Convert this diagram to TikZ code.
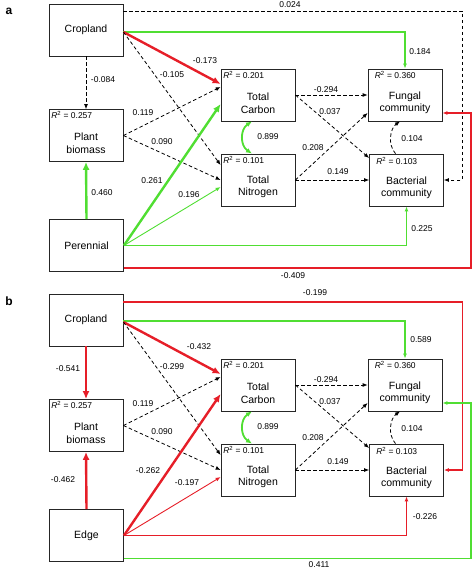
\documentclass[tikz,border=0pt]{standalone}
\usepackage{fontspec}
\setmainfont{Liberation Sans}
\usetikzlibrary{arrows.meta}
\definecolor{gr}{RGB}{80,222,50}
\definecolor{rd}{RGB}{230,30,40}
\begin{document}
\begin{tikzpicture}[x=1pt,y=-1pt,
  box/.style={draw=black!85,line width=0.8pt,minimum width=74pt,minimum height=52pt,inner sep=0pt,font=\fontsize{10.5}{12.5}\selectfont},
  txt/.style={align=center,inner sep=0pt,font=\fontsize{10.5}{12.5}\selectfont},
  r2/.style={anchor=north west,inner sep=0pt,font=\fontsize{8.5}{10}\selectfont},
  lab/.style={inner sep=0pt,font=\fontsize{8.5}{10}\selectfont},
  panel/.style={inner sep=0pt,font=\fontsize{12}{14}\selectfont\bfseries},
  ar/.style={-{Latex[length=5pt,width=4pt]}},
  arT/.style={-{Latex[length=8pt,width=7pt]}},
  dsh/.style={dash pattern=on 3.5pt off 2.5pt,line width=0.8pt,ar},
  thk/.style={line width=2.4pt,arT},
  med/.style={line width=1.3pt,ar},
  thn/.style={line width=0.9pt,ar},
  dbl/.style={line width=1.8pt,{Latex[length=6pt,width=5pt]}-{Latex[length=6pt,width=5pt]}}
]
\useasboundingbox (0,0) rectangle (474,569);

% ================= panel a =================
\node[panel] (pa) at (9,11) {a};
\node[box] (crop) at (86,30) {Cropland};
\node[box] (pb) at (86,135.5) {};
\node[r2] (pbr) at ([xshift=2.5pt,yshift=-2.5pt]pb.north west) {\textit{R}\textsuperscript{2} = 0.257};
\node[txt] (pbt) at ([yshift=-7.5pt]pb.center) {Plant\\biomass};
\node[box] (per) at (86.5,245.5) {Perennial};
\node[box] (tc) at (258,95) {};
\node[r2] (tcr) at ([xshift=2.5pt,yshift=-2.5pt]tc.north west) {\textit{R}\textsuperscript{2} = 0.201};
\node[txt] (tct) at ([yshift=-8pt]tc.center) {Total\\Carbon};
\node[box] (tn) at (258,180) {};
\node[r2] (tnr) at ([xshift=2.5pt,yshift=-2.5pt]tn.north west) {\textit{R}\textsuperscript{2} = 0.101};
\node[txt] (tnt) at ([yshift=-7pt]tn.center) {Total\\Nitrogen};
\node[box] (fu) at (405,95) {};
\node[r2] (fur) at ([xshift=7pt,yshift=-2.5pt]fu.north west) {\textit{R}\textsuperscript{2} = 0.360};
\node[txt] (fut) at ([yshift=-8pt]fu.center) {Fungal\\community};
\node[box] (ba) at (406.5,180) {};
\node[r2] (bar) at ([xshift=7pt,yshift=-4pt]ba.north west) {\textit{R}\textsuperscript{2} = 0.103};
\node[txt] (bat) at ([yshift=-8pt]ba.center) {Bacterial\\community};

\draw[dsh] ([yshift=19pt]crop.east) -- ++(339,0) |- (ba.east);
\draw[med,gr] ([yshift=-2pt]crop.east) -| (fu.north);
\draw[thk,rd] ([yshift=-2pt]crop.east) -- ([yshift=11pt]tc.west);
\draw[dsh] ([yshift=-2pt]crop.east) -- ([yshift=15pt]tn.west);
\draw[dsh] (crop.south) -- (pb.north);
\draw[dsh] (pb.east) -- ([yshift=8pt]tc.west);
\draw[dsh] (pb.east) -- (tn.west);
\draw[thk,gr] (per.north) -- (pb.south);
\draw[thk,gr] (per.east) -- ([yshift=-9pt]tc.west);
\draw[thn,gr] (per.east) -- ([yshift=-7pt]tn.west);
\draw[med,gr] (per.east) -| (ba.south);
\draw[med,rd] ([yshift=-22.5pt]per.east) -- ++(347,0) |- ([yshift=-18pt]fu.east);
\draw[dbl,gr] ([xshift=-6pt]tc.south) .. controls +(-12,8) and +(-12,-8) .. ([xshift=-6pt]tn.north);
\draw[dsh] (tc.east) -- (fu.west);
\draw[dsh] (tc.east) -- ([yshift=22pt]ba.west);
\draw[dsh] (tn.east) -- ([yshift=-18pt]fu.west);
\draw[dsh] (tn.east) -- (ba.west);
\draw[dsh] ([xshift=-11pt]ba.north) .. controls +(-8,-9) and +(-10,7) .. ([xshift=-5pt]fu.south);

\node[lab] (a1) at (290,5) {0.024};
\node[lab] (a2) at (420,52) {0.184};
\node[lab] (a3) at (205,61) {-0.173};
\node[lab] (a4) at (172,75) {-0.105};
\node[lab] (a5) at (103,80) {-0.084};
\node[lab] (a6) at (143,113) {0.119};
\node[lab] (a7) at (162,142) {0.090};
\node[lab] (a8) at (152,181) {0.261};
\node[lab] (a9) at (189,195) {0.196};
\node[lab] (a10) at (102,193) {0.460};
\node[lab] (a11) at (422,229) {0.225};
\node[lab] (a12) at (293,276) {-0.409};
\node[lab] (a13) at (268,137) {0.899};
\node[lab] (a14) at (326,90) {-0.294};
\node[lab] (a15) at (330,112) {0.037};
\node[lab] (a16) at (313,148) {0.208};
\node[lab] (a17) at (338,172) {0.149};
\node[lab] (a18) at (412,139) {0.104};

% ================= panel b =================
\node[panel] (pbl) at (9,301) {b};
\node[box] (crop2) at (86,320) {Cropland};
\node[box] (pb2) at (86,425.5) {};
\node[r2] (pbr2) at ([xshift=2.5pt,yshift=-2.5pt]pb2.north west) {\textit{R}\textsuperscript{2} = 0.257};
\node[txt] (pbt2) at ([yshift=-7.5pt]pb2.center) {Plant\\biomass};
\node[box] (edge) at (86.5,535.5) {Edge};
\node[box] (tc2) at (258,385) {};
\node[r2] (tcr2) at ([xshift=2.5pt,yshift=-2.5pt]tc2.north west) {\textit{R}\textsuperscript{2} = 0.201};
\node[txt] (tct2) at ([yshift=-8pt]tc2.center) {Total\\Carbon};
\node[box] (tn2) at (258,470) {};
\node[r2] (tnr2) at ([xshift=2.5pt,yshift=-2.5pt]tn2.north west) {\textit{R}\textsuperscript{2} = 0.101};
\node[txt] (tnt2) at ([yshift=-7pt]tn2.center) {Total\\Nitrogen};
\node[box] (fu2) at (405,385) {};
\node[r2] (fur2) at ([xshift=7pt,yshift=-2.5pt]fu2.north west) {\textit{R}\textsuperscript{2} = 0.360};
\node[txt] (fut2) at ([yshift=-8pt]fu2.center) {Fungal\\community};
\node[box] (ba2) at (406.5,470) {};
\node[r2] (bar2) at ([xshift=7pt,yshift=-4pt]ba2.north west) {\textit{R}\textsuperscript{2} = 0.103};
\node[txt] (bat2) at ([yshift=-8pt]ba2.center) {Bacterial\\community};

\draw[med,rd] ([yshift=18pt]crop2.east) -- ++(339,0) |- (ba2.east);
\draw[med,gr] ([yshift=-1pt]crop2.east) -| (fu2.north);
\draw[thk,rd] ([yshift=-2pt]crop2.east) -- ([yshift=11pt]tc2.west);
\draw[dsh] ([yshift=-2pt]crop2.east) -- ([yshift=15pt]tn2.west);
\draw[thk,rd] (crop2.south) -- (pb2.north);
\draw[dsh] (pb2.east) -- ([yshift=8pt]tc2.west);
\draw[dsh] (pb2.east) -- (tn2.west);
\draw[thk,rd] (edge.north) -- (pb2.south);
\draw[thk,rd] (edge.east) -- ([yshift=-9pt]tc2.west);
\draw[thn,rd] (edge.east) -- ([yshift=-7pt]tn2.west);
\draw[med,rd] (edge.east) -| (ba2.south);
\draw[med,gr] ([yshift=-23pt]edge.east) -- ++(347,0) |- ([yshift=-18pt]fu2.east);
\draw[dbl,gr] ([xshift=-6pt]tc2.south) .. controls +(-12,8) and +(-12,-8) .. ([xshift=-6pt]tn2.north);
\draw[dsh] (tc2.east) -- (fu2.west);
\draw[dsh] (tc2.east) -- ([yshift=22pt]ba2.west);
\draw[dsh] (tn2.east) -- ([yshift=-18pt]fu2.west);
\draw[dsh] (tn2.east) -- (ba2.west);
\draw[dsh] ([xshift=-11pt]ba2.north) .. controls +(-8,-9) and +(-10,7) .. ([xshift=-5pt]fu2.south);

\node[lab] (b1) at (315,293) {-0.199};
\node[lab] (b2) at (421,340) {0.589};
\node[lab] (b3) at (199,347) {-0.432};
\node[lab] (b4) at (172,367) {-0.299};
\node[lab] (b5) at (68,369) {-0.541};
\node[lab] (b6) at (143,404) {0.119};
\node[lab] (b7) at (162,432) {0.090};
\node[lab] (b8) at (148,471) {-0.262};
\node[lab] (b9) at (187,483) {-0.197};
\node[lab] (b10) at (63,480) {-0.462};
\node[lab] (b11) at (425,517) {-0.226};
\node[lab] (b12) at (319,565) {0.411};
\node[lab] (b13) at (268,427) {0.899};
\node[lab] (b14) at (326,380) {-0.294};
\node[lab] (b15) at (330,402) {0.037};
\node[lab] (b16) at (313,438) {0.208};
\node[lab] (b17) at (338,462) {0.149};
\node[lab] (b18) at (412,429) {0.104};
\end{tikzpicture}
\end{document}
